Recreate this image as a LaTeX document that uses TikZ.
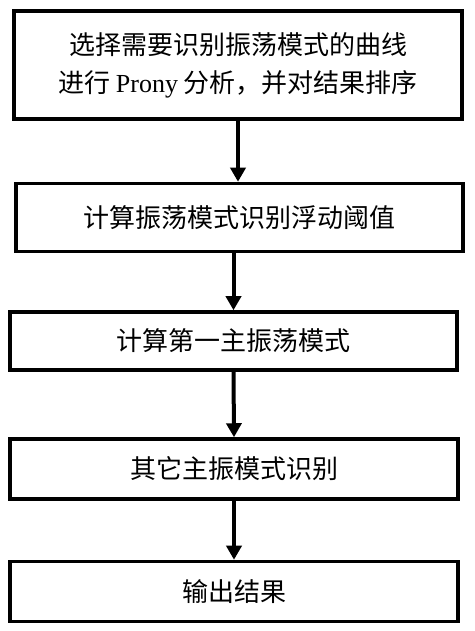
\documentclass[tikz,border=0pt]{standalone}
\usepackage{fontspec}
\setmainfont{Liberation Serif}
\newfontfamily\cjk{Noto Sans CJK SC}
\usetikzlibrary{arrows.meta}
\tikzset{
  stepbox/.style={draw, line width=3.5pt, inner sep=0pt, align=center,
    font=\cjk\fontsize{26}{38}\selectfont},
  arr/.style={->, line width=4pt},
}
\begin{document}
\begin{tikzpicture}[x=1pt, y=1pt, >={Triangle[length=14pt,width=15pt]}]
        \useasboundingbox (0,0) rectangle (474,631);
        \node[stepbox, minimum width=448pt, minimum height=108pt] (select) at (238,566) {选择需要识别振荡模式的曲线\\进行 {\rmfamily Prony} 分析，并对结果排序};
        \node[stepbox, minimum width=447pt, minimum height=68pt] (thresh) at (239.5,413.5) {计算振荡模式识别浮动阈值};
        \node[stepbox, minimum width=447pt, minimum height=58pt] (first) at (233.5,290) {计算第一主振荡模式};
        \node[stepbox, minimum width=448pt, minimum height=60pt] (others) at (234,162) {其它主振模式识别};
        \node[stepbox, minimum width=448pt, minimum height=60pt] (output) at (234,39.5) {输出结果};
        %arrows between the steps
        \draw[arr] (select.south) -- (select.south |- thresh.north);
        \draw[arr] (thresh.south -| first.north) -- (first.north);
        \draw[arr] (first.south) -- (others.north);
        \draw[arr] (others.south) -- (output.north);
\end{tikzpicture}
\end{document}
